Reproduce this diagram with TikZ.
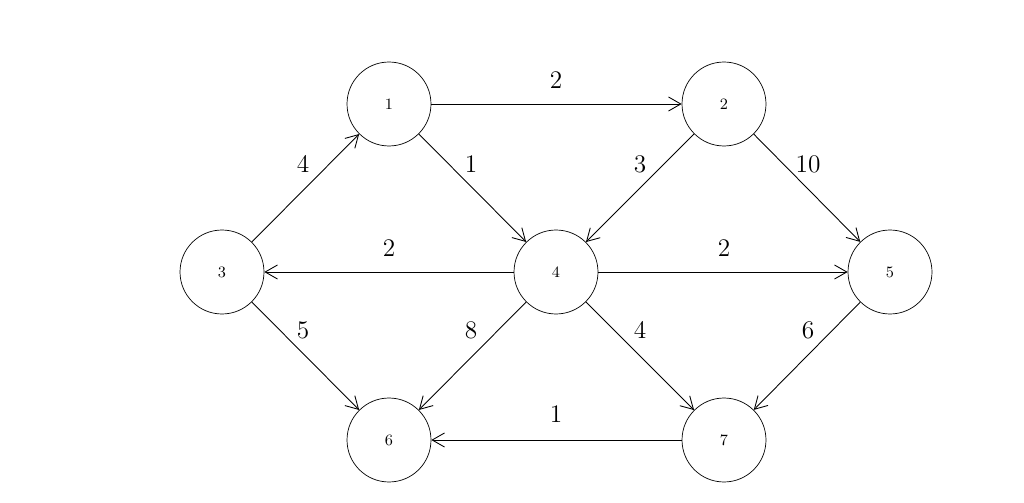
\documentclass[tikz,border=0pt]{standalone}
\usetikzlibrary{arrows.meta}
\begin{document}
\begin{tikzpicture}[x=0.02cm,y=-0.02cm,
  vert/.style={circle,draw,minimum size=1.68cm,inner sep=0pt,font=\small},
  edge/.style={draw,line width=0.5pt,-{Straight Barb[length=7pt,width=8pt]}},
  wt/.style={font=\Large}]
\useasboundingbox (0,0) rectangle (1024,503);
\node[vert] (n1) at (389,104) {1};
\node[vert] (n2) at (724,104) {2};
\node[vert] (n3) at (222,272) {3};
\node[vert] (n4) at (556,272) {4};
\node[vert] (n5) at (890,272) {5};
\node[vert] (n6) at (389,440) {6};
\node[vert] (n7) at (724,440) {7};
\draw[edge] (n1) -- (n2);
\draw[edge] (n3) -- (n1);
\draw[edge] (n1) -- (n4);
\draw[edge] (n2) -- (n4);
\draw[edge] (n2) -- (n5);
\draw[edge] (n4) -- (n3);
\draw[edge] (n4) -- (n5);
\draw[edge] (n3) -- (n6);
\draw[edge] (n4) -- (n6);
\draw[edge] (n4) -- (n7);
\draw[edge] (n5) -- (n7);
\draw[edge] (n7) -- (n6);
\node[wt] (w12) at (556,80) {2};
\node[wt] (w31) at (303,164) {4};
\node[wt] (w14) at (471,164) {1};
\node[wt] (w24) at (640,164) {3};
\node[wt] (w25) at (808,164) {10};
\node[wt] (w43) at (389,248) {2};
\node[wt] (w45) at (724,248) {2};
\node[wt] (w36) at (303,330) {5};
\node[wt] (w46) at (471,330) {8};
\node[wt] (w47) at (640,330) {4};
\node[wt] (w57) at (808,330) {6};
\node[wt] (w76) at (556,414) {1};
\end{tikzpicture}
\end{document}
